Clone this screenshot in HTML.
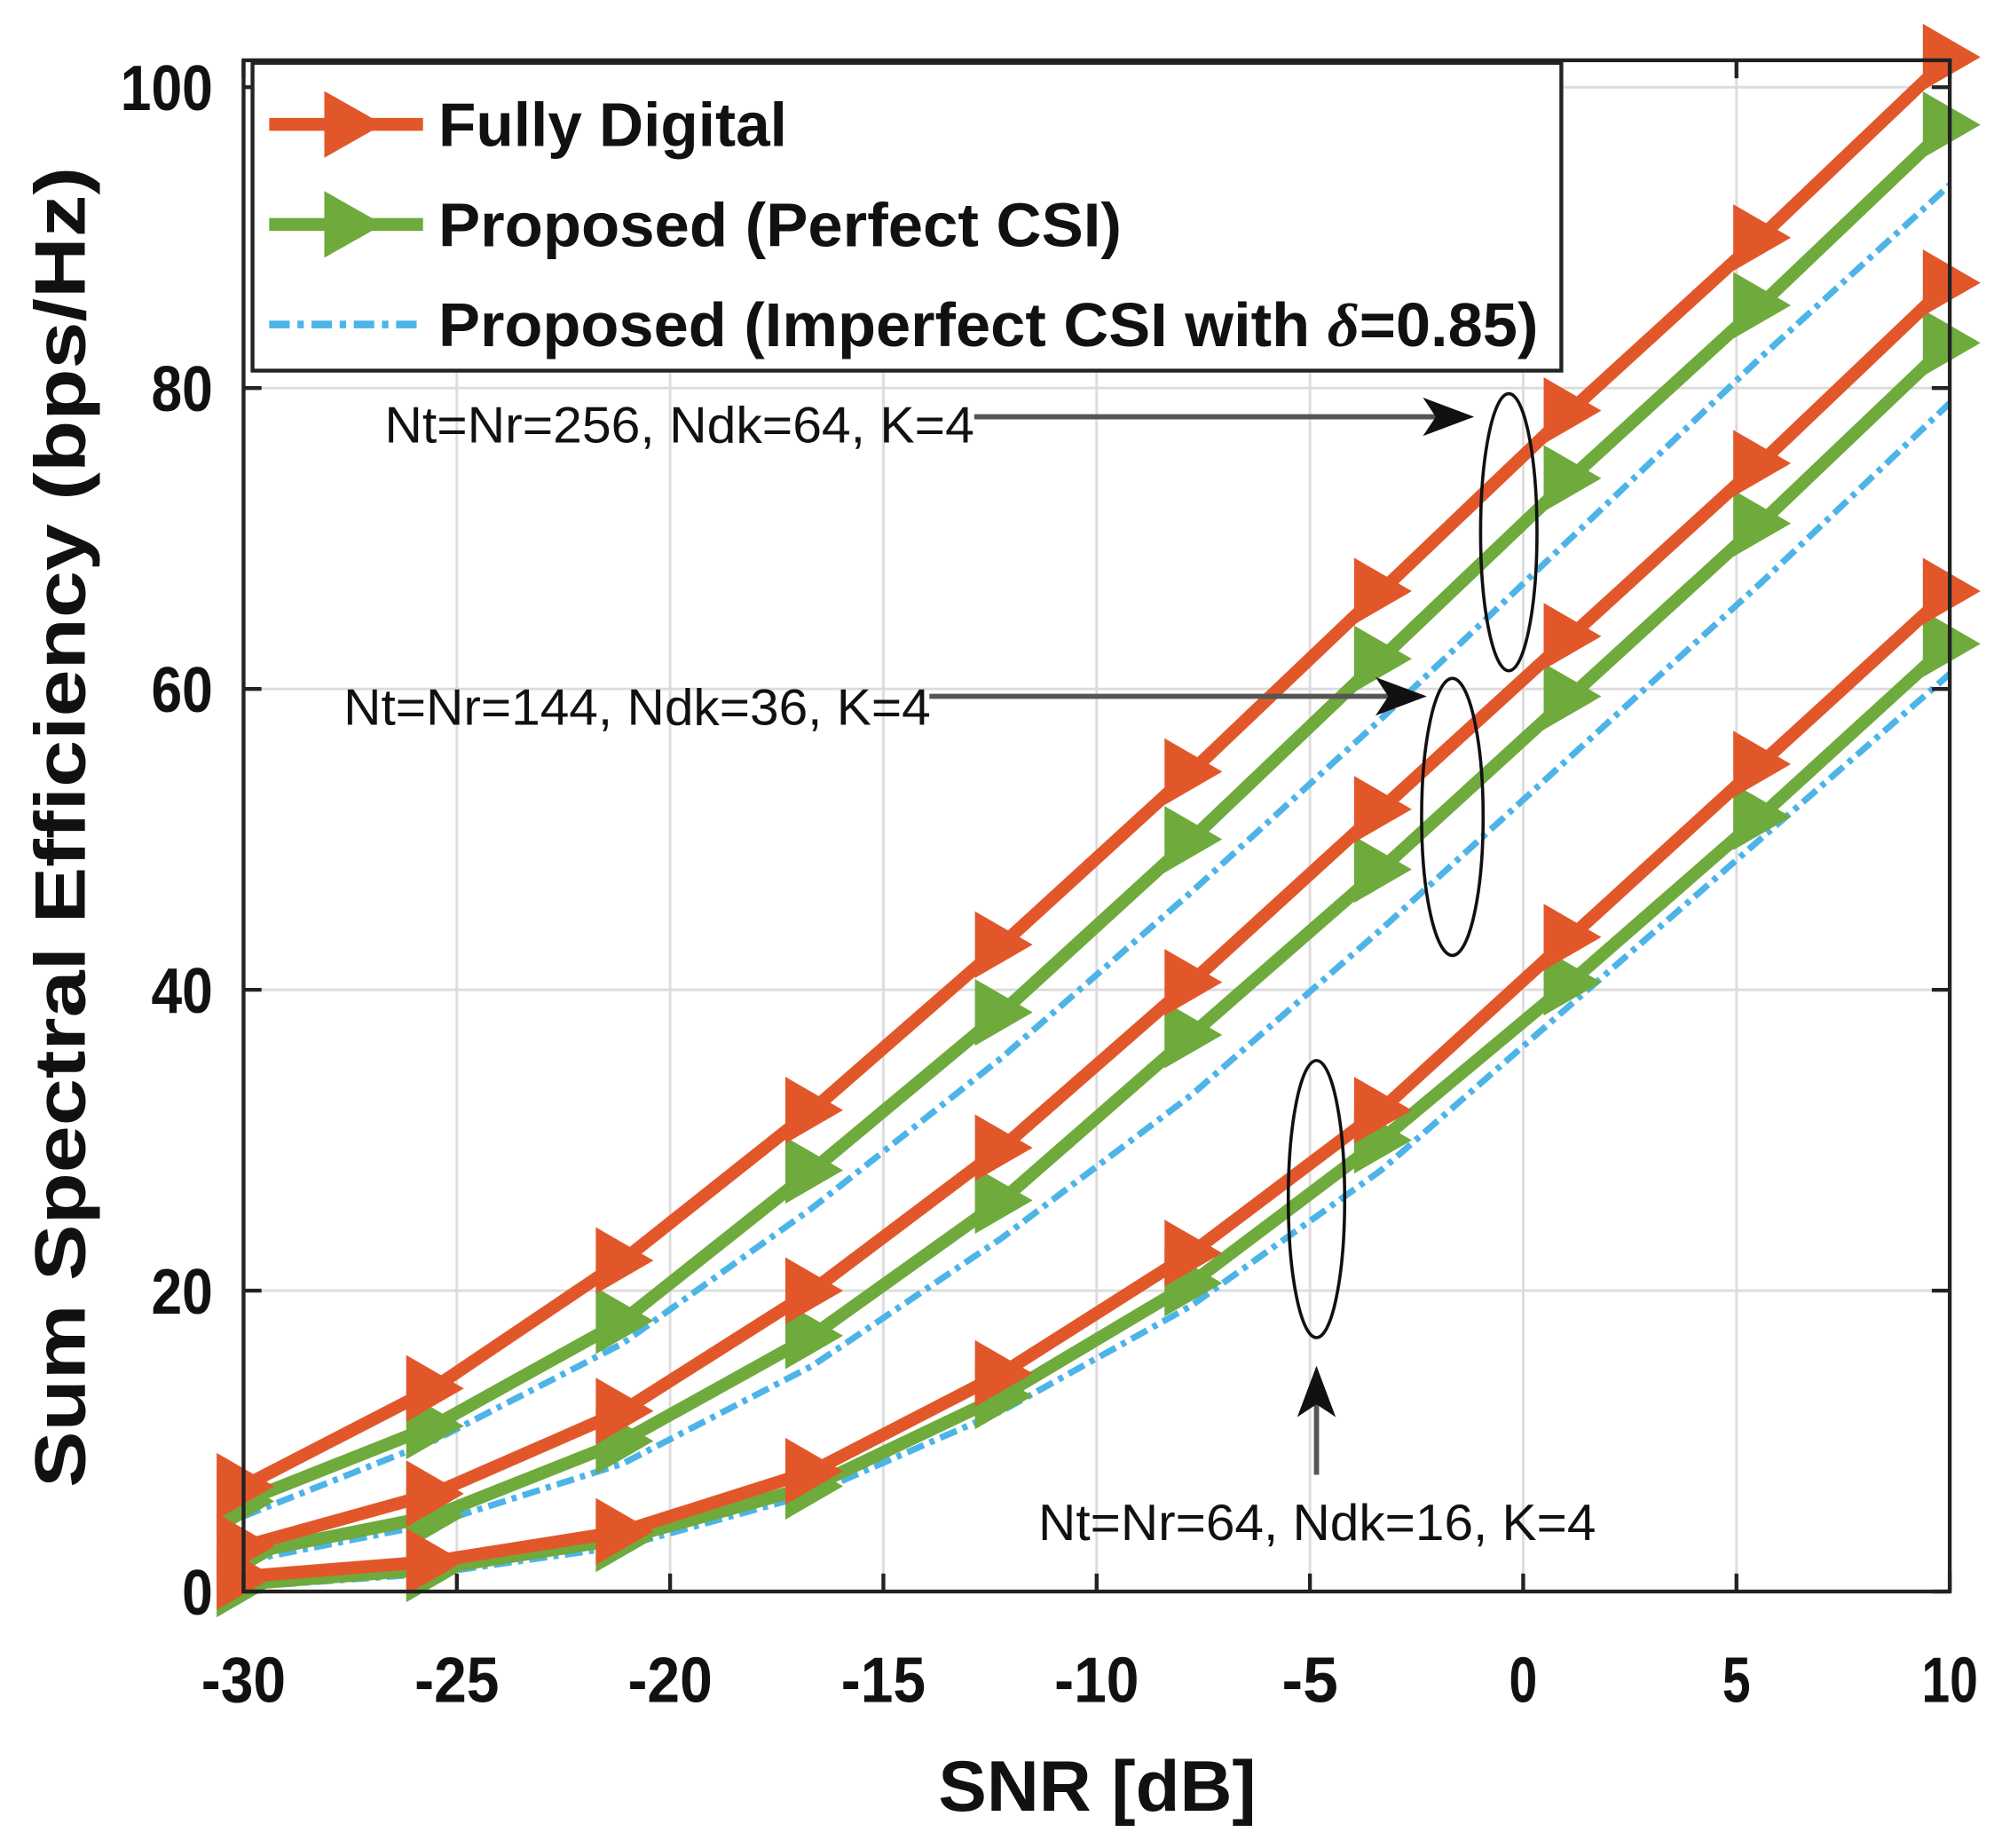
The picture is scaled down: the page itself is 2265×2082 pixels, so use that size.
<!DOCTYPE html>
<html><head><meta charset="utf-8"><style>html,body{margin:0;padding:0;background:#fff;}svg{display:block;}</style></head>
<body>
<svg id="s" xmlns="http://www.w3.org/2000/svg" width="2265" height="2082" viewBox="0 0 1568 1441" preserveAspectRatio="none" font-family="'Liberation Sans', Arial, sans-serif">
<rect width="1568" height="1441" fill="#fff"/>
<g id="grid" stroke="#dcdcdc" stroke-width="2"></g>
<g id="series"></g>
<rect x="190" y="47" width="1331" height="1194" fill="none" stroke="#222" stroke-width="3"/>
<g id="ticks" stroke="#222" stroke-width="3"></g>
<g id="labels" font-weight="bold" font-size="50" fill="#111"></g>
<!-- legend -->
<rect x="197" y="49" width="1021" height="240" fill="#fff" stroke="#222" stroke-width="3"/>
<line x1="210" y1="97" x2="330" y2="97" stroke="#E2572A" stroke-width="10"/>
<polygon points="253,71 299,97 253,123" fill="#E2572A"/>
<line x1="210" y1="175" x2="330" y2="175" stroke="#6EAA3C" stroke-width="10"/>
<polygon points="253,149 299,175 253,201" fill="#6EAA3C"/>
<line x1="210" y1="253" x2="330" y2="253" stroke="#4DB4E8" stroke-width="6" stroke-dasharray="16,6,5,6"/>
<g font-weight="bold" font-size="48" fill="#111">
<text x="342" y="114" textLength="272" lengthAdjust="spacingAndGlyphs">Fully Digital</text>
<text x="342" y="192" textLength="533" lengthAdjust="spacingAndGlyphs">Proposed (Perfect CSI)</text>
<text x="342" y="270" textLength="858" lengthAdjust="spacingAndGlyphs">Proposed (Imperfect CSI with <tspan font-style="italic" font-family="'Liberation Serif', serif">δ</tspan>=0.85)</text>
</g>
<!-- annotations -->
<g font-size="40" fill="#111">
<text x="300" y="345" textLength="460" lengthAdjust="spacingAndGlyphs">Nt=Nr=256, Ndk=64, K=4</text>
<text x="268" y="565" textLength="458" lengthAdjust="spacingAndGlyphs">Nt=Nr=144, Ndk=36, K=4</text>
<text x="810" y="1201" textLength="435" lengthAdjust="spacingAndGlyphs">Nt=Nr=64, Ndk=16, K=4</text>
</g>
<g stroke="#555" stroke-width="4" fill="none">
<line x1="760" y1="325" x2="1125" y2="325"/>
<line x1="725" y1="543" x2="1090" y2="543"/>
<line x1="1027" y1="1150" x2="1027" y2="1090"/>
</g>
<g fill="#111">
<polygon points="1150,325 1110,310 1120,325 1110,340"/>
<polygon points="1113,543 1073,528 1083,543 1073,558"/>
<polygon points="1027,1065 1012,1105 1027,1095 1042,1105"/>
</g>
<g stroke="#111" stroke-width="2.5" fill="none">
<ellipse cx="1177" cy="415" rx="22" ry="108"/>
<ellipse cx="1133" cy="637" rx="24" ry="108"/>
<ellipse cx="1027" cy="935" rx="22" ry="108"/>
</g>
<text x="856" y="1412" text-anchor="middle" font-weight="bold" font-size="56" fill="#111" textLength="248" lengthAdjust="spacingAndGlyphs">SNR [dB]</text>
<text transform="translate(66,645) rotate(-90)" text-anchor="middle" font-weight="bold" font-size="56" fill="#111" textLength="1030" lengthAdjust="spacingAndGlyphs">Sum Spectral Efficiency (bps/Hz)</text>
</svg>
<script>
var NS="http://www.w3.org/2000/svg";
function X(v){return 190+(v+30)*1331/40;}
function Y(v){return 1241-v*11.73;}
function el(p,t,a,txt){var e=document.createElementNS(NS,t);for(var k in a)e.setAttribute(k,a[k]);if(txt!=null)e.textContent=txt;document.getElementById(p).appendChild(e);return e;}
for(var v=-25;v<10;v+=5)el("grid","line",{x1:X(v),y1:47,x2:X(v),y2:1241});
for(var v=20;v<=100;v+=20)el("grid","line",{x1:190,y1:Y(v),x2:1521,y2:Y(v)});
for(var v=-30;v<=10;v+=5){el("ticks","line",{x1:X(v),y1:1241,x2:X(v),y2:1227});el("ticks","line",{x1:X(v),y1:47,x2:X(v),y2:61});
 var s=String(v);el("labels","text",{x:X(v),y:1327,"text-anchor":"middle",textLength:s.length*22,lengthAdjust:"spacingAndGlyphs"},s);}
for(var v=0;v<=100;v+=20){el("ticks","line",{x1:190,y1:Y(v),x2:204,y2:Y(v)});el("ticks","line",{x1:1521,y1:Y(v),x2:1507,y2:Y(v)});
 var s=String(v);el("labels","text",{x:166,y:Y(v)+18,"text-anchor":"end",textLength:s.length*24,lengthAdjust:"spacingAndGlyphs"},s);}
var xs=[];for(var i=0;i<10;i++)xs.push(-30+i*40/9);
var sets=[
 [[7,13.5,22,32,43,54.5,66.5,78.5,90,102],[6,11,18,28,38.5,50,62,74,85.5,97.5],[5,10,16.5,25.5,35.5,46.5,58,70,82,93.5]],
 [[3,6.5,12,20,29.5,40.5,52,63.5,75,87],[2.5,5,10,17,26,37,48,59.5,71,83],[2,4.5,8.5,15,23.5,33,44,55.5,67,79]],
 [[1,2,4,8,14.5,22.5,32,43.5,55,66.5],[0.5,1.5,3.5,7,13,20.5,30,40.5,51.5,63],[0.3,1.2,3,6.5,12,19,28,39,50,61]]];
var cols=["#E2572A","#6EAA3C","#4DB4E8"];
[2,1,0].forEach(function(k){
 sets.forEach(function(s){
  var d=s[k].map(function(v,i){return (i?"L":"M")+X(xs[i]).toFixed(1)+","+Y(v).toFixed(1);}).join("");
  if(k==2){el("series","path",{d:d,fill:"none",stroke:cols[2],"stroke-width":5,"stroke-dasharray":"14,5,4,5"});}
  else{el("series","path",{d:d,fill:"none",stroke:cols[k],"stroke-width":10,"stroke-linejoin":"round"});
   s[k].forEach(function(v,i){var x=X(xs[i]),y=Y(v);
    el("series","polygon",{points:(x-21)+","+(y-26)+" "+(x+24)+","+y+" "+(x-21)+","+(y+26),fill:cols[k]});});}
 });
});
</script>
</body></html>
